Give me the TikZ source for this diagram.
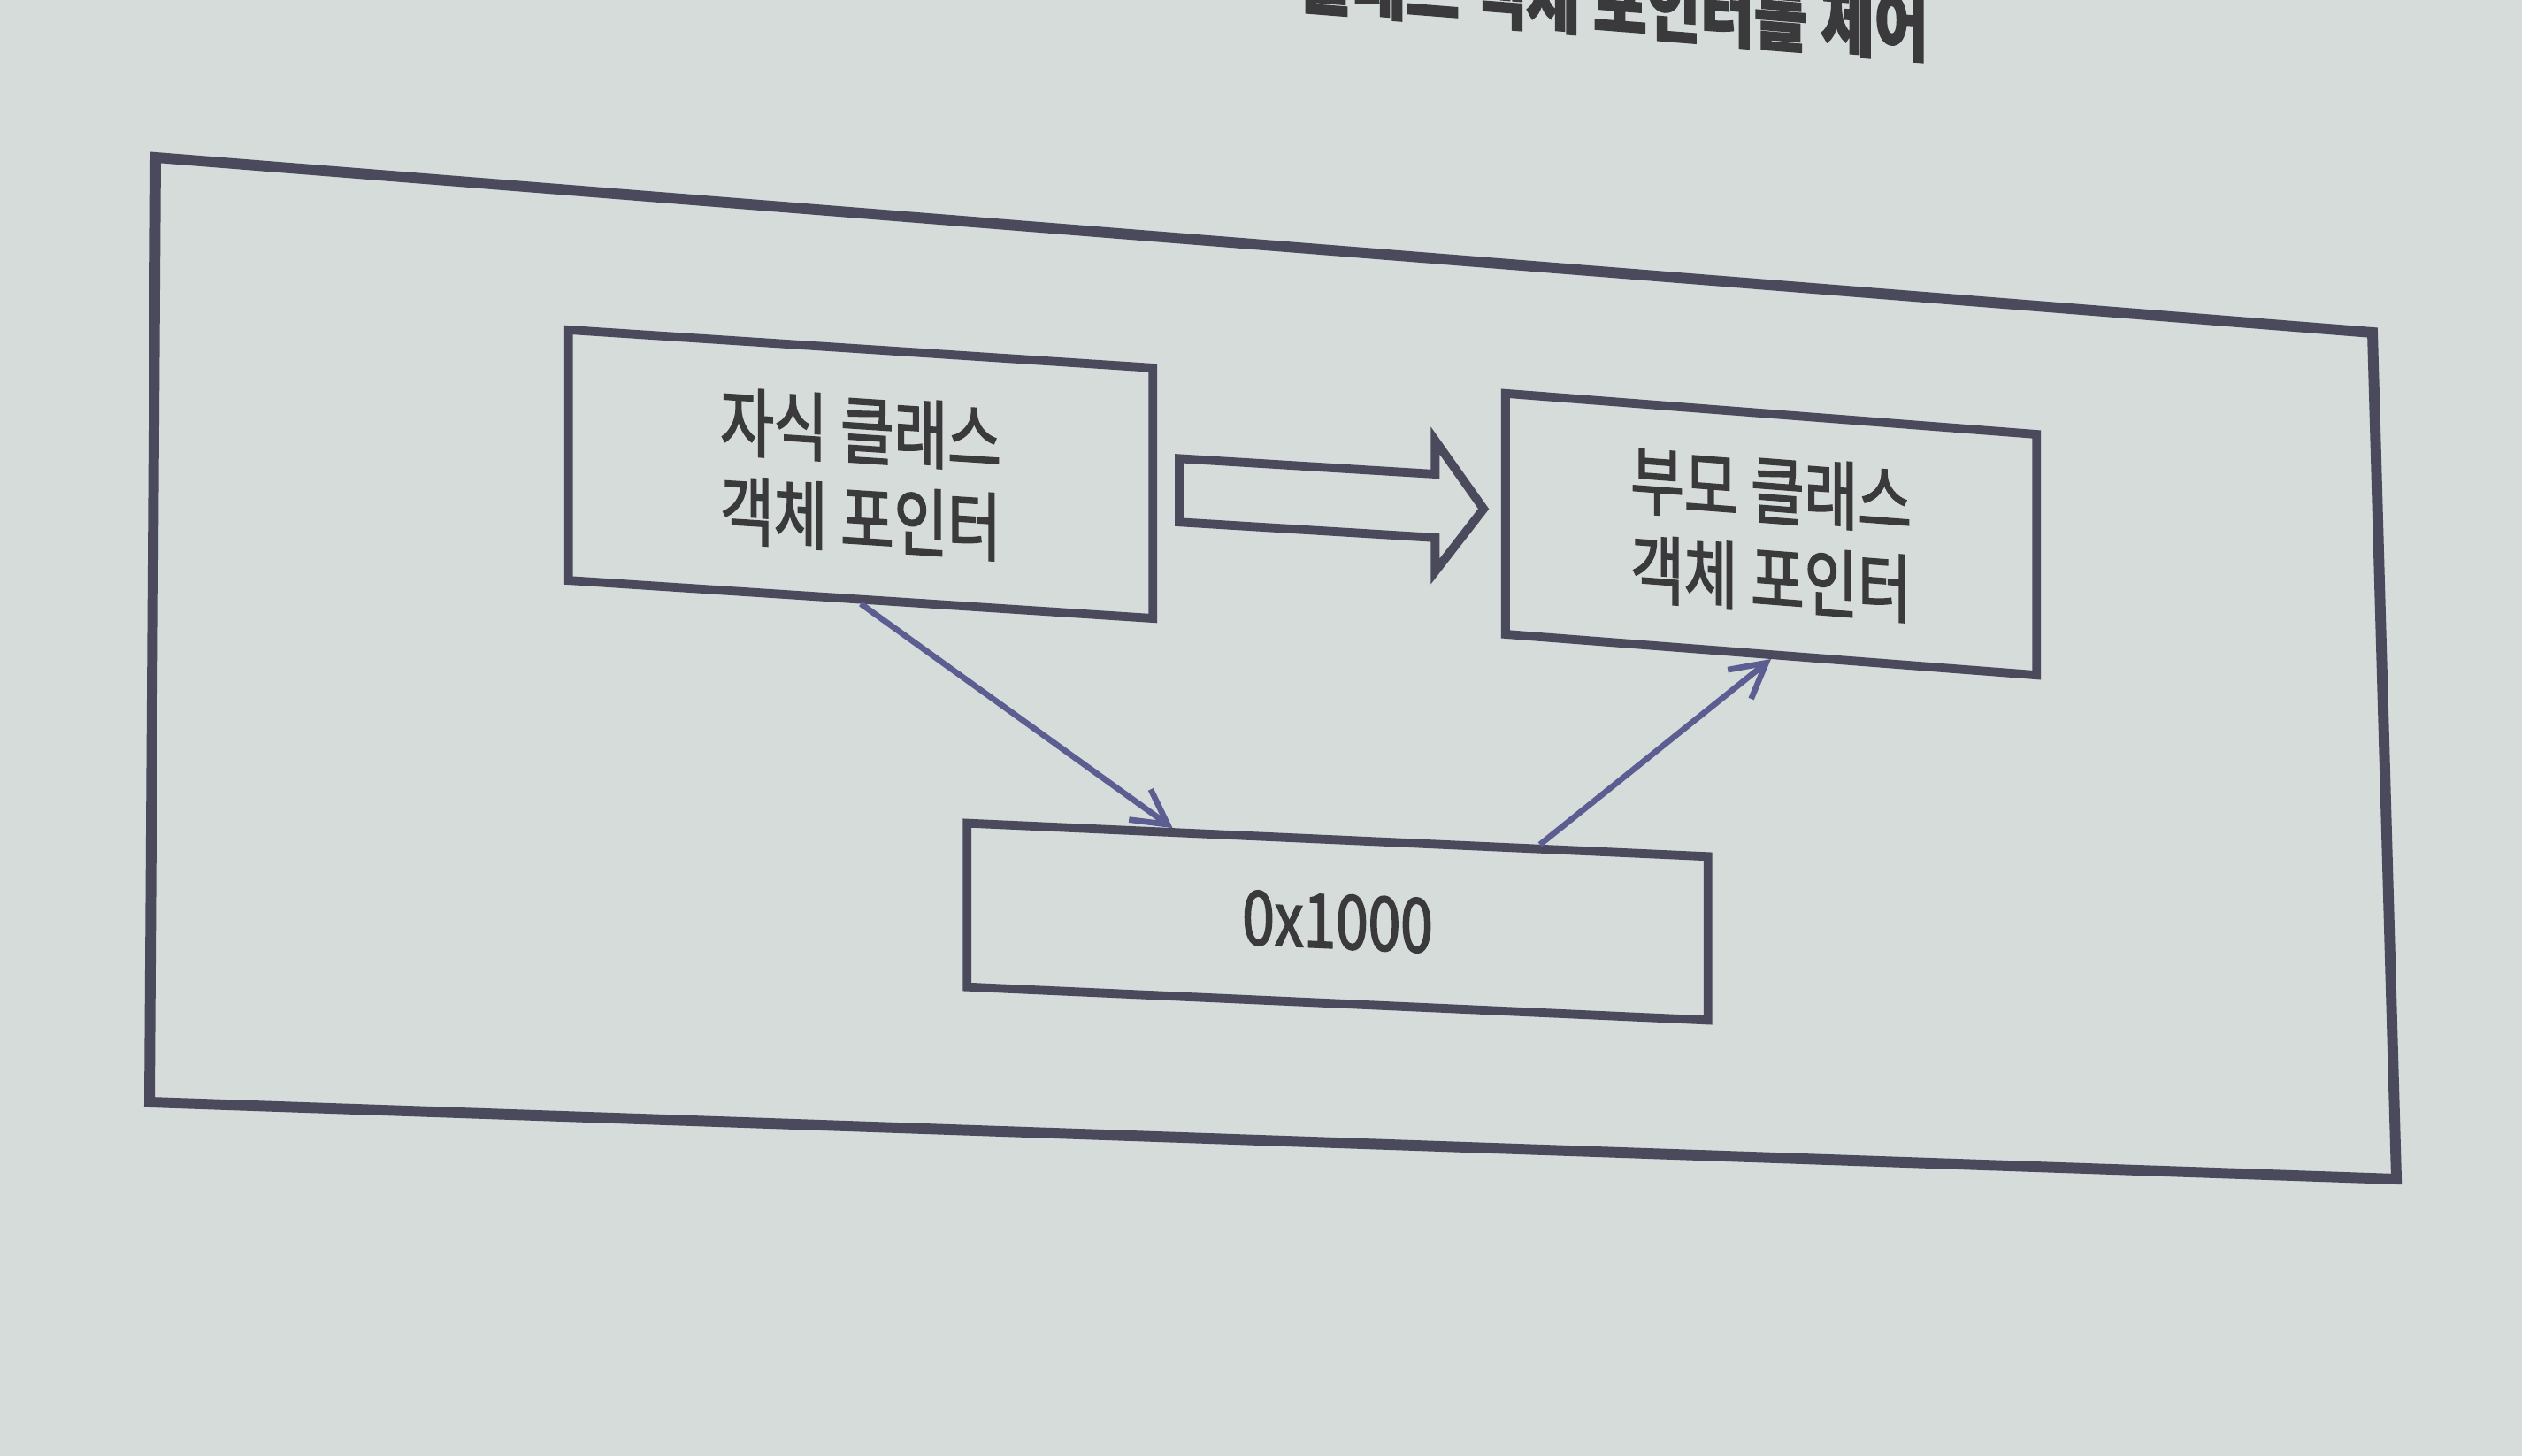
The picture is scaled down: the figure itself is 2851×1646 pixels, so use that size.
\documentclass[tikz,border=0pt]{standalone}
\usepackage{fontspec}
\setmainfont{Noto Sans CJK KR}[FakeStretch=0.78, FakeBold=2]
\usetikzlibrary{arrows.meta,shapes.arrows,calc}
\definecolor{screen}{RGB}{213,220,217}
\definecolor{frameline}{RGB}{75,74,92}
\definecolor{ptrcol}{RGB}{92,94,145}
\definecolor{ink}{RGB}{58,58,60}
\tikzset{
    box/.style={draw=frameline, line width=2.8pt, inner sep=0pt, align=center, text=ink,
        font=\fontsize{24}{28.5}\selectfont},
    ptr/.style={draw=ptrcol, line width=1.9pt, -{Straight Barb[length=11pt,width=12pt,line width=1.9pt]}},
}

\begin{document}
\begin{tikzpicture}[x=0.01cm, y=-0.01cm]

    \useasboundingbox (0,0) rectangle (2851,1646);
    \fill[screen] (0,0) rectangle (2851,1646);

    % heading, cut off by the top edge
    \begin{scope}
        \clip (0,0) rectangle (2851,1646);
        \node[anchor=base east, yslant=-0.079, text=ink, font=\fontsize{24}{24}\selectfont\bfseries] (title) at (2192,64) {클래스 객체 포인터를 제어};
    \end{scope}

    \coordinate (f1) at (176,178);
    \coordinate (f2) at (2682,376);
    \coordinate (f3) at (2709,1333);
    \coordinate (f4) at (169,1246);
    \draw[frameline, line width=3.4pt] (f1) -- (f2) -- (f3) -- (f4) -- cycle;

    \node[box, yslant=-0.065, minimum width=6.6cm, minimum height=2.83cm] (child) at (973,536) {자식 클래스\\객체 포인터};
    \node[box, yslant=-0.077, minimum width=6cm, minimum height=2.72cm] (parent) at (2002,604) {부모 클래스\\객체 포인터};
    \node[box, yslant=-0.045, minimum width=8.37cm, minimum height=1.85cm] (addr) at (1512,1042) {0x1000};

    \node[single arrow, draw=frameline, line width=2.8pt, yslant=-0.061, anchor=tail, inner xsep=0pt, inner ysep=0.31cm,
        minimum height=3.44cm, single arrow head extend=0.38cm,
        single arrow tip angle=107] (cast) at (1328,554) {};

    \draw[ptr] (child.south) -- ($(addr.north west)!0.28!(addr.north east)$);
    \draw[ptr] ($(addr.north west)!0.77!(addr.north east)$) -- (parent.south);

\end{tikzpicture}
\end{document}
